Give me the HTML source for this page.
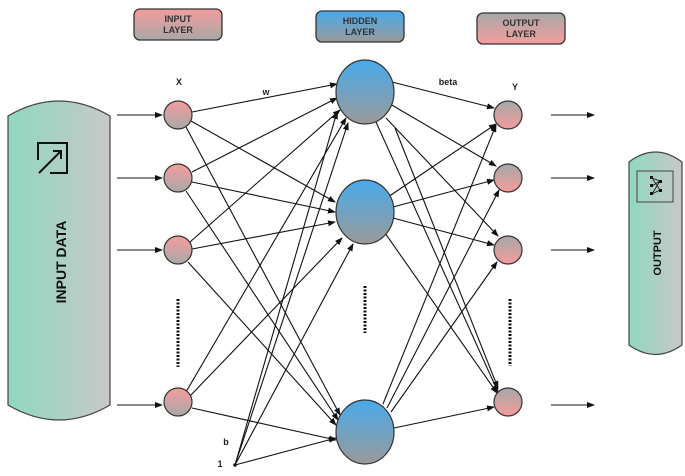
<!DOCTYPE html>
<html><head><style>body{margin:0;background:#fff}svg{display:block}text{font-family:"Liberation Sans",sans-serif;font-weight:bold}</style></head><body>
<svg width="685" height="476" viewBox="0 0 685 476" xmlns="http://www.w3.org/2000/svg">
<defs>
<linearGradient id="gin" x1="0" y1="0" x2="0" y2="1"><stop offset="0" stop-color="#f49c9c"/><stop offset="1" stop-color="#a8a8a8"/></linearGradient>
<linearGradient id="gout" x1="0" y1="0" x2="0" y2="1"><stop offset="0" stop-color="#a8a8a8"/><stop offset="1" stop-color="#f49c9c"/></linearGradient>
<linearGradient id="ghid" x1="0" y1="0" x2="0" y2="1"><stop offset="0" stop-color="#48aaea"/><stop offset="1" stop-color="#9a9a9a"/></linearGradient>
<linearGradient id="gdata" x1="0" y1="0" x2="1" y2="0"><stop offset="0" stop-color="#90d8bf"/><stop offset="1" stop-color="#c8c8c8"/></linearGradient>
<marker id="ar" markerWidth="8" markerHeight="8" refX="7" refY="4" orient="auto" markerUnits="userSpaceOnUse"><path d="M0,1 L8,4 L0,7 Z" fill="#111"/></marker>
</defs>
<rect x="134" y="9" width="88" height="31" rx="6" fill="url(#gin)" stroke="#333" stroke-width="1.3"/>
<text x="178" y="22" font-size="9" text-anchor="middle" fill="#333">INPUT</text><text x="178" y="33" font-size="9" text-anchor="middle" fill="#333">LAYER</text>
<rect x="316" y="11" width="88" height="31" rx="6" fill="url(#ghid)" stroke="#333" stroke-width="1.3"/>
<text x="360" y="24" font-size="9" text-anchor="middle" fill="#333">HIDDEN</text><text x="360" y="35" font-size="9" text-anchor="middle" fill="#333">LAYER</text>
<rect x="477" y="13" width="88" height="31" rx="6" fill="url(#gout)" stroke="#333" stroke-width="1.3"/>
<text x="521" y="26" font-size="9" text-anchor="middle" fill="#333">OUTPUT</text><text x="521" y="37" font-size="9" text-anchor="middle" fill="#333">LAYER</text>
<path d="M8,116 Q59,86 110,116 L110,405 Q59,435 8,405 Z" fill="url(#gdata)" stroke="#444" stroke-width="1.2"/>
<path d="M38,160 V143 H67 V173 H50 M39,173 L61,151 M53,151 H61 V159" fill="none" stroke="#111" stroke-width="2"/>
<text transform="translate(66,262) rotate(-90)" font-size="14" text-anchor="middle" fill="#111">INPUT DATA</text>
<path d="M629,162 Q655,142 682,162 L682,345 Q655,364 629,345 Z" fill="url(#gdata)" stroke="#444" stroke-width="1.2"/>
<rect x="637" y="171" width="36" height="31" fill="none" stroke="#444" stroke-width="1"/>
<g fill="#111"><rect x="650" y="176" width="3" height="3"/><rect x="650" y="184" width="3" height="3"/><rect x="650" y="192" width="3" height="3"/><rect x="659" y="180" width="3" height="3"/><rect x="659" y="189" width="3" height="3"/></g>
<path d="M652,178 L660,190 M652,186 L660,181 M652,194 L660,181 M652,178 L660,181 M652,194 L660,190" stroke="#111" stroke-width="0.8"/>
<text transform="translate(661,253) rotate(-90)" font-size="11" text-anchor="middle" fill="#111">OUTPUT</text>
<g stroke="#111" stroke-width="1.1" marker-end="url(#ar)" fill="none">
<line x1="117" y1="115" x2="162" y2="115"/><line x1="117" y1="178" x2="162" y2="178"/><line x1="117" y1="250" x2="162" y2="250"/><line x1="117" y1="405" x2="162" y2="405"/>
<line x1="551" y1="115" x2="594" y2="115"/><line x1="551" y1="178" x2="594" y2="178"/><line x1="551" y1="250" x2="594" y2="250"/><line x1="551" y1="405" x2="594" y2="405"/>
<line x1="192" y1="112" x2="337" y2="84"/><line x1="191" y1="121" x2="335" y2="202"/><line x1="186" y1="127" x2="340" y2="415"/>
<line x1="192" y1="172" x2="337" y2="98"/><line x1="192" y1="182" x2="335" y2="212"/><line x1="186" y1="191" x2="338" y2="420"/>
<line x1="190" y1="242" x2="340" y2="110"/><line x1="192" y1="249" x2="335" y2="222"/><line x1="188" y1="262" x2="336" y2="425"/>
<line x1="186" y1="392" x2="346" y2="118"/><line x1="190" y1="396" x2="342" y2="238"/><line x1="192" y1="408" x2="336" y2="440"/>
<line x1="235" y1="465" x2="337" y2="112"/><line x1="235" y1="465" x2="348" y2="123"/><line x1="235" y1="465" x2="353" y2="244"/><line x1="235" y1="465" x2="336" y2="438"/>
<line x1="392" y1="82" x2="494" y2="108"/><line x1="390" y1="104" x2="496" y2="166"/><line x1="386" y1="118" x2="498" y2="236"/><line x1="376" y1="122" x2="498" y2="392"/>
<line x1="388" y1="197" x2="496" y2="124"/><line x1="393" y1="207" x2="494" y2="180"/><line x1="393" y1="218" x2="494" y2="245"/><line x1="385" y1="233" x2="497" y2="393"/>
<line x1="383" y1="404" x2="496" y2="125"/><line x1="387" y1="408" x2="499" y2="190"/><line x1="391" y1="412" x2="497" y2="262"/><line x1="394" y1="428" x2="494" y2="407"/>
<line x1="395" y1="128" x2="498" y2="388"/>
</g>
<g stroke="#333" stroke-width="1.2">
<circle cx="178" cy="115" r="14" fill="url(#gin)"/><circle cx="178" cy="178" r="14" fill="url(#gin)"/><circle cx="178" cy="250" r="14" fill="url(#gin)"/><circle cx="178" cy="402" r="14" fill="url(#gin)"/>
<ellipse cx="365" cy="92" rx="29" ry="32" fill="url(#ghid)"/><ellipse cx="365" cy="212" rx="29" ry="32" fill="url(#ghid)"/><ellipse cx="365" cy="432" rx="29" ry="32" fill="url(#ghid)"/>
<circle cx="508" cy="115" r="14" fill="url(#gout)"/><circle cx="508" cy="178" r="14" fill="url(#gout)"/><circle cx="508" cy="250" r="14" fill="url(#gout)"/><circle cx="508" cy="402" r="14" fill="url(#gout)"/>
</g>
<g stroke="#111" stroke-width="3" stroke-dasharray="2,1.5">
<line x1="178" y1="299" x2="178" y2="367"/><line x1="365" y1="286" x2="365" y2="333"/><line x1="510" y1="299" x2="510" y2="366"/>
</g>
<circle cx="235" cy="465" r="1.8" fill="#111"/>
<g font-size="9" fill="#222" text-anchor="middle">
<text x="179" y="85">X</text><text x="266" y="95">w</text><text x="448" y="85">beta</text><text x="515" y="90">Y</text><text x="226" y="445">b</text><text x="220" y="467">1</text>
</g>
</svg>
</body></html>
